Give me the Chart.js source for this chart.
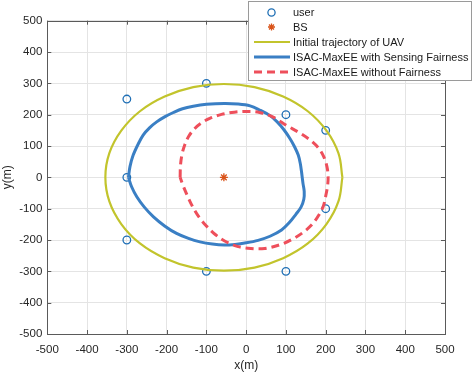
<!DOCTYPE html>
<html><head><meta charset="utf-8">
<script src="https://cdn.jsdelivr.net/npm/chart.js@4/dist/chart.umd.min.js"></script>
<style>html,body{margin:0;padding:0;background:#fff}#wrap{width:474px;height:373px}</style>
</head><body><div id="wrap"><canvas id="c" width="474" height="373"></canvas></div>
<script>
const xTicks = [-500,-400,-300,-200,-100,0,100,200,300,400,500];
const yTicks = [-500,-400,-300,-200,-100,0,100,200,300,400,500];
const seriesNames = ['user','BS','Initial trajectory of UAV','ISAC-MaxEE with Sensing Fairness','ISAC-MaxEE without Fairness'];
const userX = [-300,-100,100,200,-300,200,-300,-100,100];
const userY = [250,300,200,150,0,-100,-200,-300,-300];
const bsX = [-56];
const bsY = [0];
const initX = [242,232,202,155,93,21,-56,-133,-205,-267,-314,-344,-354,-344,-314,-267,-205,-133,-56,21,93,155,202,232,242];
const initY = [0,77,149,211,258,288,298,288,258,211,149,77,0,-77,-149,-211,-258,-288,-298,-288,-258,-211,-149,-77,0];
const fairX = [-296,-292,-284,-272,-259,-243,-225,-205,-183,-160,-133,-100,-55,-20,10,34,60,78,95,110,122,131,136,139,141,143,146,145,138,125,108,89,60,30,0,-28,-55,-85,-116,-145,-175,-205,-233,-256,-275,-288,-296];
const fairY = [0,35,71,105,135,158,177,193,207,219,227,233,236,234,228,215,197,177,152,124,97,71,45,20,0,-20,-45,-70,-95,-118,-145,-168,-188,-201,-209,-214,-216,-213,-206,-195,-179,-155,-126,-95,-62,-30,0];
const noFairX = [-166,-165,-161,-154,-144,-130,-112,-90,-62,-30,0,34,68,101,133,160,181,195,203,206,205,200,194,182,166,143,114,83,47,12,-20,-54,-80,-100,-118,-134,-148,-159,-166];
const noFairY = [0,40,75,105,132,155,174,189,201,208,210,207,192,166,143,120,95,66,35,5,-25,-60,-92,-122,-150,-176,-199,-216,-227,-227,-221,-203,-180,-155,-128,-95,-58,-25,0];

const toPts = (xs, ys) => xs.map((x, i) => ({x, y: ys[i]}));
const C_USER = '#1f6fb5', C_BS = '#D95319', C_INIT = '#c2c42c', C_FAIR = '#3a7fc4', C_NOFAIR = '#ee4f5b';
const FONT = '"Liberation Sans", Arial, sans-serif';

const frame = {
  id: 'frame',
  afterDatasetsDraw(chart) {
    const {ctx, chartArea: a, scales: {x, y}} = chart;
    ctx.save();
    ctx.strokeStyle = '#5a5a5a';
    ctx.lineWidth = 1;
    ctx.beginPath();
    for (const v of xTicks) {
      const px = Math.round(x.getPixelForValue(v)) + 0.5;
      ctx.moveTo(px, a.bottom); ctx.lineTo(px, a.bottom - 4);
      ctx.moveTo(px, a.top); ctx.lineTo(px, a.top + 4);
    }
    for (const v of yTicks) {
      const py = Math.round(y.getPixelForValue(v)) + 0.5;
      ctx.moveTo(a.left, py); ctx.lineTo(a.left + 4, py);
      ctx.moveTo(a.right, py); ctx.lineTo(a.right - 4, py);
    }
    ctx.stroke();
    ctx.strokeRect(Math.round(a.left) + 0.5, Math.round(a.top) + 0.5, Math.round(a.right - a.left), Math.round(a.bottom - a.top));
    ctx.restore();
  },
  afterDraw(chart) {
    const ctx = chart.ctx;
    ctx.save();
    const bx = 248.5, by = 1.5, bw = 223, bh = 79;
    ctx.fillStyle = '#fff';
    ctx.fillRect(bx, by, bw, bh);
    ctx.strokeStyle = '#9a9a9a';
    ctx.lineWidth = 1;
    ctx.strokeRect(bx, by, bw, bh);
    const rows = [12.5, 27, 42, 57, 72];
    const x0 = 254, x1 = 290, xm = 271.5, tx = 293;
    ctx.strokeStyle = C_USER; ctx.lineWidth = 1.3;
    ctx.beginPath(); ctx.arc(xm, rows[0], 3.6, 0, Math.PI * 2); ctx.stroke();
    ctx.strokeStyle = C_BS; ctx.lineWidth = 1.3;
    ctx.beginPath();
    const r = 3.5, d = r * 0.707;
    ctx.moveTo(xm - r, rows[1]); ctx.lineTo(xm + r, rows[1]);
    ctx.moveTo(xm, rows[1] - r); ctx.lineTo(xm, rows[1] + r);
    ctx.moveTo(xm - d, rows[1] - d); ctx.lineTo(xm + d, rows[1] + d);
    ctx.moveTo(xm - d, rows[1] + d); ctx.lineTo(xm + d, rows[1] - d);
    ctx.stroke();
    ctx.lineWidth = 2.2; ctx.strokeStyle = C_INIT;
    ctx.beginPath(); ctx.moveTo(x0, rows[2]); ctx.lineTo(x1, rows[2]); ctx.stroke();
    ctx.lineWidth = 3; ctx.strokeStyle = C_FAIR;
    ctx.beginPath(); ctx.moveTo(x0, rows[3]); ctx.lineTo(x1, rows[3]); ctx.stroke();
    ctx.strokeStyle = C_NOFAIR; ctx.setLineDash([8, 5]);
    ctx.beginPath(); ctx.moveTo(x0, rows[4]); ctx.lineTo(x1, rows[4]); ctx.stroke();
    ctx.setLineDash([]);
    ctx.fillStyle = '#1a1a1a';
    ctx.font = '11px ' + FONT;
    ctx.textBaseline = 'middle';
    ctx.textAlign = 'left';
    seriesNames.forEach((n, i) => ctx.fillText(n, tx, rows[i] + 0.5));
    ctx.restore();
  }
};

new Chart(document.getElementById('c'), {
  type: 'scatter',
  data: {
    datasets: [
      {label: seriesNames[4], data: toPts(noFairX, noFairY), showLine: true, tension: 0.35, borderColor: C_NOFAIR, borderWidth: 3, borderDash: [8, 5], pointRadius: 0, order: 1},
      {label: seriesNames[3], data: toPts(fairX, fairY), showLine: true, tension: 0.35, borderColor: C_FAIR, borderWidth: 3, pointRadius: 0, order: 2},
      {label: seriesNames[2], data: toPts(initX, initY), showLine: true, tension: 0.4, borderColor: C_INIT, borderWidth: 2.2, pointRadius: 0, order: 3},
      {label: seriesNames[1], data: toPts(bsX, bsY), pointStyle: 'star', pointRadius: 4, borderColor: C_BS, borderWidth: 1.3, backgroundColor: C_BS, order: 4},
      {label: seriesNames[0], data: toPts(userX, userY), pointStyle: 'circle', pointRadius: 3.8, borderColor: C_USER, borderWidth: 1.3, backgroundColor: 'rgba(0,0,0,0)', order: 5}
    ]
  },
  options: {
    responsive: false,
    animation: false,
    events: [],
    layout: {padding: {left: 0, right: 29, top: 20.7, bottom: 0}},
    plugins: {legend: {display: false}, tooltip: {enabled: false}},
    scales: {
      x: {
        type: 'linear', min: -500, max: 500,
        afterBuildTicks: s => { s.ticks = xTicks.map(v => ({value: v})); },
        afterFit: s => { s.height = 39; },
        grid: {color: '#e4e4e4', drawTicks: false, lineWidth: 1},
        border: {display: false},
        ticks: {color: '#262626', font: {family: FONT, size: 11.5}, padding: 9, maxRotation: 0},
        title: {display: true, text: 'x(m)', color: '#262626', font: {family: FONT, size: 12}, padding: {top: 0, bottom: 0}}
      },
      y: {
        type: 'linear', min: -500, max: 500,
        afterBuildTicks: s => { s.ticks = yTicks.map(v => ({value: v})); },
        afterFit: s => { s.width = 47.3; },
        grid: {color: '#e4e4e4', drawTicks: false, lineWidth: 1},
        border: {display: false},
        ticks: {color: '#262626', font: {family: FONT, size: 11.5}, padding: 5},
        title: {display: true, text: 'y(m)', color: '#262626', font: {family: FONT, size: 12}, padding: {top: 0, bottom: 0}}
      }
    }
  },
  plugins: [frame]
});
</script>
</body></html>
